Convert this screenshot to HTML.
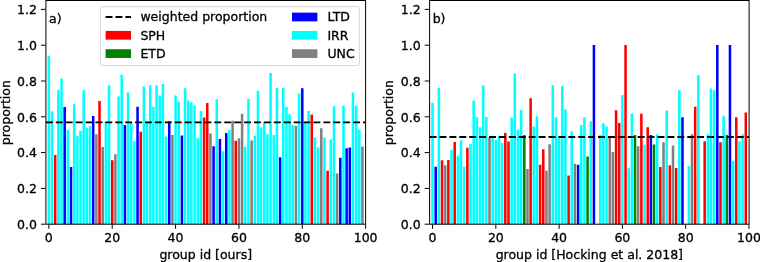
<!DOCTYPE html>
<html><head><meta charset="utf-8"><title>group proportions</title>
<style>
html,body{margin:0;padding:0;background:#fff;}
svg{display:block;}
text{font-family:"DejaVu Sans","Liberation Sans",sans-serif;font-size:12.5px;fill:#000;stroke:#000;stroke-width:0.3px;}
</style></head>
<body>
<svg width="760" height="262" viewBox="0 0 760 262">
<rect width="760" height="262" fill="#fff"/>
<g>
<path fill="#00ffff" d="M47.58 224.2h2.53v-168.37h-2.53zM50.75 224.2h2.53v-112.91h-2.53zM57.09 224.2h2.53v-134.38h-2.53zM60.25 224.2h2.53v-145.82h-2.53zM66.59 224.2h2.53v-94.12h-2.53zM72.93 224.2h2.53v-119.88h-2.53zM76.09 224.2h2.53v-88.22h-2.53zM79.26 224.2h2.53v-93.41h-2.53zM82.43 224.2h2.53v-133.84h-2.53zM85.60 224.2h2.53v-96.81h-2.53zM88.77 224.2h2.53v-97.88h-2.53zM104.61 224.2h2.53v-102.17h-2.53zM107.77 224.2h2.53v-138.85h-2.53zM117.28 224.2h2.53v-127.76h-2.53zM120.45 224.2h2.53v-149.40h-2.53zM126.78 224.2h2.53v-131.69h-2.53zM129.95 224.2h2.53v-101.28h-2.53zM133.12 224.2h2.53v-82.85h-2.53zM142.62 224.2h2.53v-137.60h-2.53zM145.79 224.2h2.53v-101.28h-2.53zM148.96 224.2h2.53v-139.03h-2.53zM152.13 224.2h2.53v-117.38h-2.53zM155.29 224.2h2.53v-139.03h-2.53zM158.46 224.2h2.53v-128.65h-2.53zM161.63 224.2h2.53v-140.10h-2.53zM164.80 224.2h2.53v-87.68h-2.53zM174.30 224.2h2.53v-128.65h-2.53zM177.47 224.2h2.53v-122.39h-2.53zM183.81 224.2h2.53v-135.99h-2.53zM186.97 224.2h2.53v-123.64h-2.53zM190.14 224.2h2.53v-121.85h-2.53zM193.31 224.2h2.53v-118.45h-2.53zM196.48 224.2h2.53v-85.89h-2.53zM199.65 224.2h2.53v-113.26h-2.53zM215.49 224.2h2.53v-125.07h-2.53zM221.82 224.2h2.53v-72.83h-2.53zM228.16 224.2h2.53v-94.12h-2.53zM244.00 224.2h2.53v-77.48h-2.53zM247.17 224.2h2.53v-125.25h-2.53zM253.50 224.2h2.53v-88.40h-2.53zM256.67 224.2h2.53v-133.48h-2.53zM259.84 224.2h2.53v-96.98h-2.53zM263.01 224.2h2.53v-102.17h-2.53zM266.17 224.2h2.53v-90.01h-2.53zM269.34 224.2h2.53v-151.19h-2.53zM272.51 224.2h2.53v-89.11h-2.53zM275.68 224.2h2.53v-136.16h-2.53zM282.01 224.2h2.53v-136.34h-2.53zM285.18 224.2h2.53v-117.20h-2.53zM288.35 224.2h2.53v-110.04h-2.53zM291.52 224.2h2.53v-99.13h-2.53zM297.85 224.2h2.53v-130.62h-2.53zM304.19 224.2h2.53v-102.17h-2.53zM307.36 224.2h2.53v-113.26h-2.53zM313.69 224.2h2.53v-86.79h-2.53zM316.86 224.2h2.53v-76.77h-2.53zM323.20 224.2h2.53v-86.79h-2.53zM329.53 224.2h2.53v-84.64h-2.53zM332.70 224.2h2.53v-117.92h-2.53zM342.21 224.2h2.53v-118.63h-2.53zM351.71 224.2h2.53v-131.69h-2.53zM354.88 224.2h2.53v-118.45h-2.53zM358.05 224.2h2.53v-94.66h-2.53z"/>
<path fill="#ff0000" d="M53.92 224.2h2.53v-69.26h-2.53zM98.27 224.2h2.53v-123.10h-2.53zM110.94 224.2h2.53v-64.07h-2.53zM139.45 224.2h2.53v-92.33h-2.53zM202.81 224.2h2.53v-106.82h-2.53zM205.98 224.2h2.53v-121.32h-2.53zM234.49 224.2h2.53v-83.39h-2.53zM310.53 224.2h2.53v-109.69h-2.53zM326.37 224.2h2.53v-53.33h-2.53z"/>
<path fill="#0000ff" d="M63.42 224.2h2.53v-117.20h-2.53zM69.76 224.2h2.53v-57.09h-2.53zM91.93 224.2h2.53v-108.26h-2.53zM123.61 224.2h2.53v-99.13h-2.53zM136.29 224.2h2.53v-117.38h-2.53zM167.97 224.2h2.53v-102.89h-2.53zM180.64 224.2h2.53v-88.58h-2.53zM212.32 224.2h2.53v-77.84h-2.53zM218.65 224.2h2.53v-85.18h-2.53zM224.99 224.2h2.53v-91.08h-2.53zM278.85 224.2h2.53v-66.93h-2.53zM301.02 224.2h2.53v-135.99h-2.53zM339.04 224.2h2.53v-66.57h-2.53zM345.37 224.2h2.53v-76.05h-2.53zM348.54 224.2h2.53v-76.77h-2.53z"/>
<path fill="#808080" d="M95.10 224.2h2.53v-90.01h-2.53zM101.44 224.2h2.53v-77.13h-2.53zM114.11 224.2h2.53v-69.97h-2.53zM171.13 224.2h2.53v-89.29h-2.53zM209.15 224.2h2.53v-90.72h-2.53zM231.33 224.2h2.53v-103.43h-2.53zM237.66 224.2h2.53v-85.89h-2.53zM240.83 224.2h2.53v-110.40h-2.53zM250.33 224.2h2.53v-83.75h-2.53zM294.69 224.2h2.53v-98.42h-2.53zM320.03 224.2h2.53v-95.91h-2.53zM335.87 224.2h2.53v-50.65h-2.53zM361.21 224.2h2.53v-77.66h-2.53z"/>
<line x1="45.9" x2="365.6" y1="122.36" y2="122.36" stroke="#000" stroke-width="1.9" stroke-dasharray="6.92 2.99"/>
<rect x="45.90" y="0.5" width="319.70" height="223.70" fill="none" stroke="#000" stroke-width="1"/>
<line x1="41.00" x2="45.40" y1="224.20" y2="224.20" stroke="#000" stroke-width="1"/>
<text x="37.00" y="228.90" text-anchor="end">0.0</text>
<line x1="41.00" x2="45.40" y1="188.40" y2="188.40" stroke="#000" stroke-width="1"/>
<text x="37.00" y="193.10" text-anchor="end">0.2</text>
<line x1="41.00" x2="45.40" y1="152.60" y2="152.60" stroke="#000" stroke-width="1"/>
<text x="37.00" y="157.30" text-anchor="end">0.4</text>
<line x1="41.00" x2="45.40" y1="116.80" y2="116.80" stroke="#000" stroke-width="1"/>
<text x="37.00" y="121.50" text-anchor="end">0.6</text>
<line x1="41.00" x2="45.40" y1="81.00" y2="81.00" stroke="#000" stroke-width="1"/>
<text x="37.00" y="85.70" text-anchor="end">0.8</text>
<line x1="41.00" x2="45.40" y1="45.20" y2="45.20" stroke="#000" stroke-width="1"/>
<text x="37.00" y="49.90" text-anchor="end">1.0</text>
<line x1="41.00" x2="45.40" y1="9.40" y2="9.40" stroke="#000" stroke-width="1"/>
<text x="37.00" y="14.10" text-anchor="end">1.2</text>
<line x1="48.85" x2="48.85" y1="224.70" y2="228.80" stroke="#000" stroke-width="1"/>
<text x="48.85" y="242.3" text-anchor="middle">0</text>
<line x1="112.21" x2="112.21" y1="224.70" y2="228.80" stroke="#000" stroke-width="1"/>
<text x="112.21" y="242.3" text-anchor="middle">20</text>
<line x1="175.57" x2="175.57" y1="224.70" y2="228.80" stroke="#000" stroke-width="1"/>
<text x="175.57" y="242.3" text-anchor="middle">40</text>
<line x1="238.93" x2="238.93" y1="224.70" y2="228.80" stroke="#000" stroke-width="1"/>
<text x="238.93" y="242.3" text-anchor="middle">60</text>
<line x1="302.29" x2="302.29" y1="224.70" y2="228.80" stroke="#000" stroke-width="1"/>
<text x="302.29" y="242.3" text-anchor="middle">80</text>
<line x1="365.65" x2="365.65" y1="224.70" y2="228.80" stroke="#000" stroke-width="1"/>
<text x="365.65" y="242.3" text-anchor="middle">100</text>
<text x="49.00" y="22.6">a)</text>
<text x="205.75" y="259.2" text-anchor="middle">group id [ours]</text>
<text transform="translate(9.60 112.65) rotate(-90)" text-anchor="middle">proportion</text>
<rect x="100.4" y="6.6" width="259" height="59" rx="2.5" ry="2.5" fill="#fff" fill-opacity="0.8" stroke="#ccc" stroke-opacity="0.8" stroke-width="1"/>
<line x1="105.6" x2="131" y1="17.0" y2="17.0" stroke="#000" stroke-width="1.9" stroke-dasharray="6.92 2.99"/>
<text x="140.4" y="21.3">weighted proportion</text>
<rect x="105.6" y="30.95" width="25.4" height="8.7" fill="#ff0000"/>
<text x="140.4" y="39.6">SPH</text>
<rect x="105.6" y="49.25" width="25.4" height="8.7" fill="#008000"/>
<text x="140.4" y="57.9">ETD</text>
<rect x="292" y="12.65" width="25.4" height="8.7" fill="#0000ff"/>
<text x="327.4" y="21.3">LTD</text>
<rect x="292" y="30.95" width="25.4" height="8.7" fill="#00ffff"/>
<text x="327.4" y="39.6">IRR</text>
<rect x="292" y="49.25" width="25.4" height="8.7" fill="#808080"/>
<text x="327.4" y="57.9">UNC</text>
</g>
<g>
<path fill="#00ffff" d="M431.28 224.2h2.53v-121.49h-2.53zM437.61 224.2h2.53v-136.16h-2.53zM450.27 224.2h2.53v-74.26h-2.53zM456.60 224.2h2.53v-68.36h-2.53zM459.76 224.2h2.53v-83.93h-2.53zM462.92 224.2h2.53v-57.45h-2.53zM469.25 224.2h2.53v-80.35h-2.53zM472.42 224.2h2.53v-123.82h-2.53zM475.58 224.2h2.53v-107.18h-2.53zM478.74 224.2h2.53v-96.98h-2.53zM481.91 224.2h2.53v-139.03h-2.53zM485.07 224.2h2.53v-107.18h-2.53zM491.40 224.2h2.53v-87.86h-2.53zM494.56 224.2h2.53v-84.28h-2.53zM497.73 224.2h2.53v-88.40h-2.53zM500.89 224.2h2.53v-80.88h-2.53zM510.38 224.2h2.53v-106.82h-2.53zM513.55 224.2h2.53v-150.65h-2.53zM516.71 224.2h2.53v-94.48h-2.53zM519.88 224.2h2.53v-114.52h-2.53zM532.53 224.2h2.53v-97.70h-2.53zM535.70 224.2h2.53v-107.90h-2.53zM551.52 224.2h2.53v-139.03h-2.53zM554.68 224.2h2.53v-107.00h-2.53zM557.84 224.2h2.53v-86.07h-2.53zM561.01 224.2h2.53v-138.13h-2.53zM564.17 224.2h2.53v-114.70h-2.53zM570.50 224.2h2.53v-93.05h-2.53zM579.99 224.2h2.53v-99.13h-2.53zM583.16 224.2h2.53v-107.00h-2.53zM589.48 224.2h2.53v-103.07h-2.53zM598.98 224.2h2.53v-89.11h-2.53zM602.14 224.2h2.53v-100.92h-2.53zM605.30 224.2h2.53v-97.70h-2.53zM621.12 224.2h2.53v-129.19h-2.53zM627.45 224.2h2.53v-55.84h-2.53zM630.62 224.2h2.53v-110.76h-2.53zM643.27 224.2h2.53v-79.45h-2.53zM655.93 224.2h2.53v-89.83h-2.53zM665.42 224.2h2.53v-113.80h-2.53zM678.08 224.2h2.53v-134.02h-2.53zM687.57 224.2h2.53v-58.16h-2.53zM697.06 224.2h2.53v-149.04h-2.53zM706.55 224.2h2.53v-90.01h-2.53zM709.72 224.2h2.53v-135.63h-2.53zM712.88 224.2h2.53v-134.02h-2.53zM722.37 224.2h2.53v-108.43h-2.53zM731.86 224.2h2.53v-63.35h-2.53zM738.19 224.2h2.53v-83.03h-2.53zM741.36 224.2h2.53v-89.83h-2.53z"/>
<path fill="#0000ff" d="M434.45 224.2h2.53v-57.45h-2.53zM576.83 224.2h2.53v-59.42h-2.53zM592.65 224.2h2.53v-179.10h-2.53zM649.60 224.2h2.53v-89.11h-2.53zM681.24 224.2h2.53v-107.00h-2.53zM716.04 224.2h2.53v-179.10h-2.53zM728.70 224.2h2.53v-179.10h-2.53z"/>
<path fill="#ff0000" d="M440.78 224.2h2.53v-64.07h-2.53zM447.10 224.2h2.53v-64.25h-2.53zM453.43 224.2h2.53v-82.14h-2.53zM466.09 224.2h2.53v-76.41h-2.53zM504.06 224.2h2.53v-91.26h-2.53zM507.22 224.2h2.53v-82.67h-2.53zM529.37 224.2h2.53v-125.97h-2.53zM538.86 224.2h2.53v-59.42h-2.53zM542.02 224.2h2.53v-74.98h-2.53zM567.34 224.2h2.53v-48.68h-2.53zM614.80 224.2h2.53v-113.98h-2.53zM617.96 224.2h2.53v-101.28h-2.53zM624.29 224.2h2.53v-179.10h-2.53zM640.11 224.2h2.53v-110.40h-2.53zM646.44 224.2h2.53v-96.98h-2.53zM659.09 224.2h2.53v-57.09h-2.53zM668.58 224.2h2.53v-59.06h-2.53zM674.91 224.2h2.53v-56.20h-2.53zM693.90 224.2h2.53v-117.38h-2.53zM703.39 224.2h2.53v-82.85h-2.53zM719.21 224.2h2.53v-81.96h-2.53zM735.03 224.2h2.53v-107.00h-2.53zM744.52 224.2h2.53v-111.65h-2.53z"/>
<path fill="#808080" d="M443.94 224.2h2.53v-59.06h-2.53zM488.24 224.2h2.53v-86.97h-2.53zM526.20 224.2h2.53v-55.12h-2.53zM545.19 224.2h2.53v-53.33h-2.53zM548.35 224.2h2.53v-79.99h-2.53zM573.66 224.2h2.53v-60.49h-2.53zM608.47 224.2h2.53v-86.25h-2.53zM611.63 224.2h2.53v-72.12h-2.53zM636.94 224.2h2.53v-77.84h-2.53zM662.26 224.2h2.53v-81.96h-2.53zM671.75 224.2h2.53v-78.74h-2.53zM690.73 224.2h2.53v-89.83h-2.53z"/>
<path fill="#008000" d="M523.04 224.2h2.53v-89.11h-2.53zM586.32 224.2h2.53v-67.82h-2.53zM633.78 224.2h2.53v-89.11h-2.53zM652.76 224.2h2.53v-79.63h-2.53zM725.54 224.2h2.53v-89.11h-2.53z"/>
<line x1="429.6" x2="749.1" y1="137.03" y2="137.03" stroke="#000" stroke-width="1.9" stroke-dasharray="6.92 2.99"/>
<rect x="429.60" y="0.5" width="319.50" height="223.70" fill="none" stroke="#000" stroke-width="1"/>
<line x1="424.70" x2="429.10" y1="224.20" y2="224.20" stroke="#000" stroke-width="1"/>
<text x="420.70" y="228.90" text-anchor="end">0.0</text>
<line x1="424.70" x2="429.10" y1="188.40" y2="188.40" stroke="#000" stroke-width="1"/>
<text x="420.70" y="193.10" text-anchor="end">0.2</text>
<line x1="424.70" x2="429.10" y1="152.60" y2="152.60" stroke="#000" stroke-width="1"/>
<text x="420.70" y="157.30" text-anchor="end">0.4</text>
<line x1="424.70" x2="429.10" y1="116.80" y2="116.80" stroke="#000" stroke-width="1"/>
<text x="420.70" y="121.50" text-anchor="end">0.6</text>
<line x1="424.70" x2="429.10" y1="81.00" y2="81.00" stroke="#000" stroke-width="1"/>
<text x="420.70" y="85.70" text-anchor="end">0.8</text>
<line x1="424.70" x2="429.10" y1="45.20" y2="45.20" stroke="#000" stroke-width="1"/>
<text x="420.70" y="49.90" text-anchor="end">1.0</text>
<line x1="424.70" x2="429.10" y1="9.40" y2="9.40" stroke="#000" stroke-width="1"/>
<text x="420.70" y="14.10" text-anchor="end">1.2</text>
<line x1="432.55" x2="432.55" y1="224.70" y2="228.80" stroke="#000" stroke-width="1"/>
<text x="432.55" y="242.3" text-anchor="middle">0</text>
<line x1="495.83" x2="495.83" y1="224.70" y2="228.80" stroke="#000" stroke-width="1"/>
<text x="495.83" y="242.3" text-anchor="middle">20</text>
<line x1="559.11" x2="559.11" y1="224.70" y2="228.80" stroke="#000" stroke-width="1"/>
<text x="559.11" y="242.3" text-anchor="middle">40</text>
<line x1="622.39" x2="622.39" y1="224.70" y2="228.80" stroke="#000" stroke-width="1"/>
<text x="622.39" y="242.3" text-anchor="middle">60</text>
<line x1="685.67" x2="685.67" y1="224.70" y2="228.80" stroke="#000" stroke-width="1"/>
<text x="685.67" y="242.3" text-anchor="middle">80</text>
<line x1="748.95" x2="748.95" y1="224.70" y2="228.80" stroke="#000" stroke-width="1"/>
<text x="748.95" y="242.3" text-anchor="middle">100</text>
<text x="432.70" y="22.6">b)</text>
<text x="589.35" y="259.2" text-anchor="middle">group id [Hocking et al. 2018]</text>
<text transform="translate(393.30 112.65) rotate(-90)" text-anchor="middle">proportion</text>
</g>
</svg>
</body></html>
